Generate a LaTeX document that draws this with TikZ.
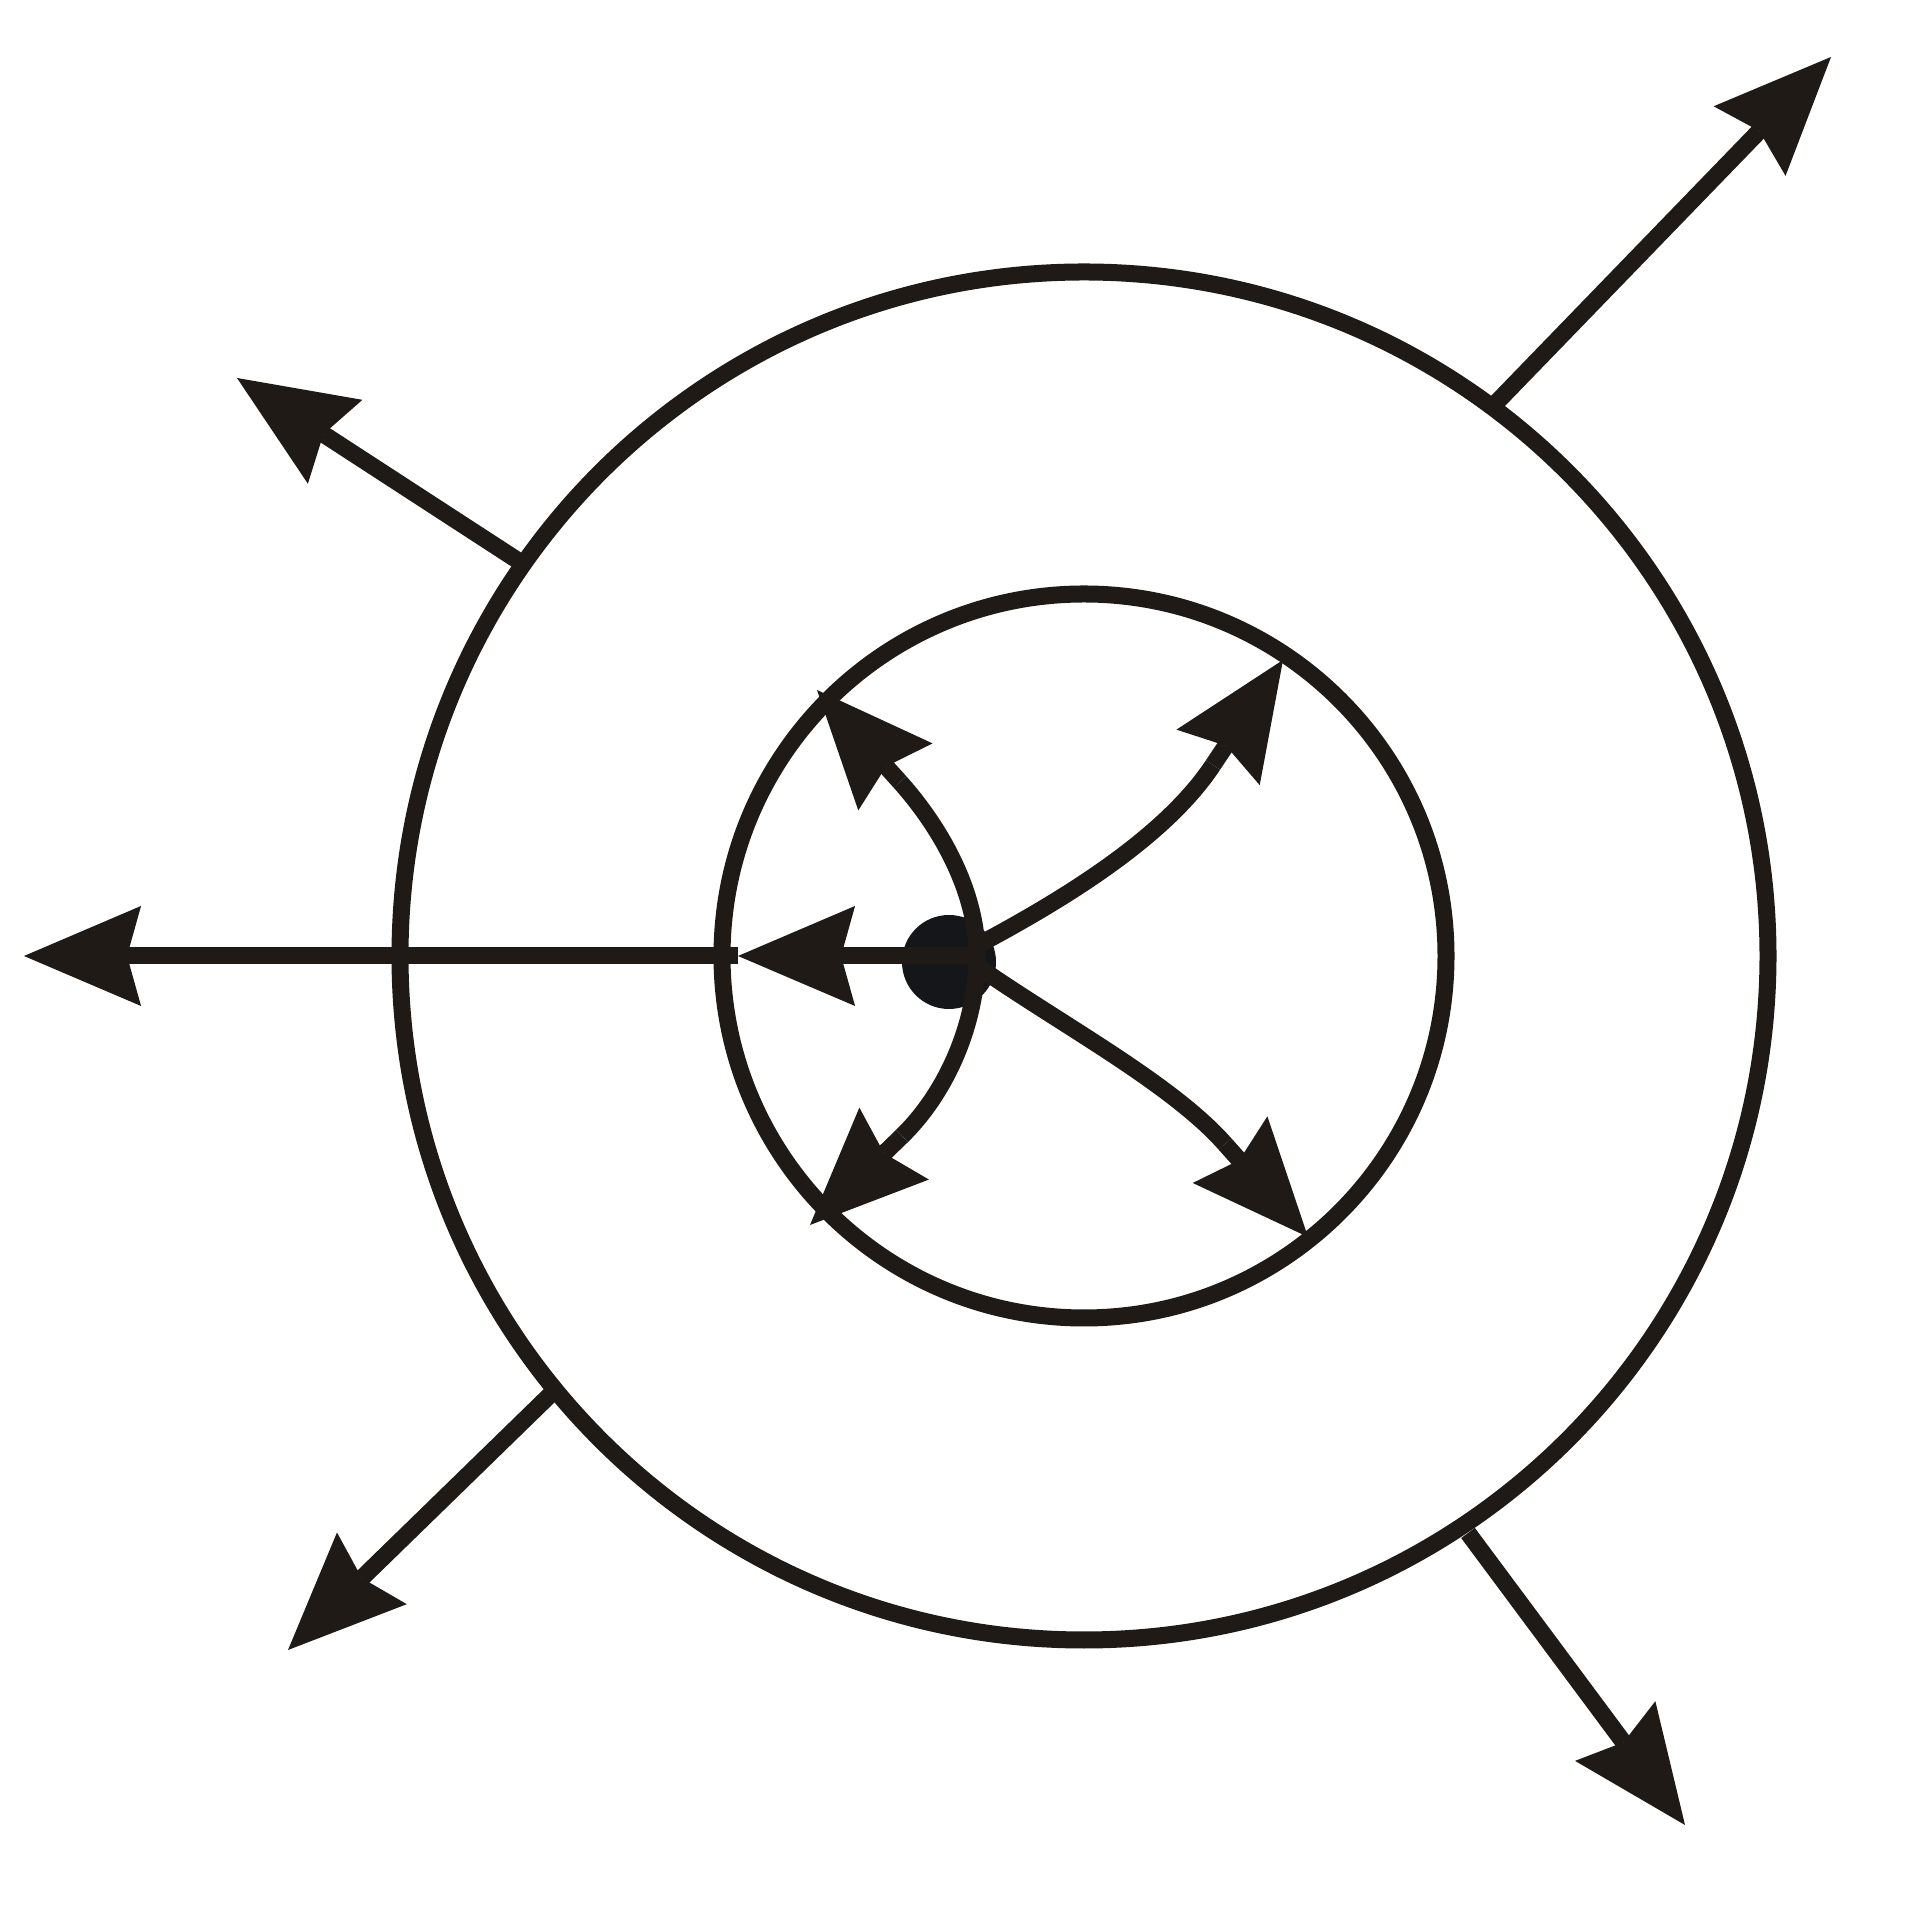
\documentclass[tikz,border=0pt]{standalone}
\usetikzlibrary{arrows.meta}
\definecolor{Ink}{HTML}{201A17}
\definecolor{DotInk}{HTML}{141619}
\tikzset{
    ring/.style = {draw=Ink, line width=0.17cm},
    stem/.style = {draw=Ink, line width=0.17cm},
    ray/.style = {stem,
        -{Stealth[length=1.17cm, width=1cm, inset=0.14cm, line width=0pt]}}
}
\begin{document}
\begin{tikzpicture}[x=0.01cm,y=0.01cm]
        \useasboundingbox (0,0) rectangle (1912,1912);
            \coordinate (c) at (1084,956);
            \draw[ring] (c) circle (684);
            \draw[ring] (c) circle (362);
                \coordinate (dot) at (949,950);
                \fill[DotInk] (dot) circle (47);
            \coordinate (o) at (977,956);
            \coordinate (oa) at (980,968);
            \coordinate (ob) at (980,944);
            \coordinate (m) at (738,956);
            \coordinate (far) at (24,956);
                \draw[ray] (o) -- (m);
                \draw[ray] (m) -- (far);
            \coordinate (ul) at (817,1222);
            \coordinate (ul0) at (900,1130);
            \coordinate (ur) at (1283,1252);
            \coordinate (ur0) at (1213,1147);
            \coordinate (lr) at (1308,675);
            \coordinate (lr0) at (1225,768);
            \coordinate (ll) at (810,687);
            \coordinate (ll0) at (902,776);
                \draw[stem] (o) .. controls (977,1019) and (942,1083) .. (ul0);
                \draw[stem] (oa) .. controls (1068,1015) and (1166,1076) .. (ur0);
                \draw[stem] (ob) .. controls (1062,887) and (1172,828) .. (lr0);
                \draw[stem] (o) .. controls (977,891) and (948,821) .. (ll0);
                \draw[ray] (ul0) -- (ul);
                \draw[ray] (ur0) -- (ur);
                \draw[ray] (lr0) -- (lr);
                \draw[ray] (ll0) -- (ll);
            \coordinate (tr0) at (1497,1510);
            \coordinate (tr) at (1831,1855);
            \coordinate (tl0) at (517,1352);
            \coordinate (tl) at (237,1534);
            \coordinate (bl0) at (552,519);
            \coordinate (bl) at (288,262);
            \coordinate (br0) at (1468,379);
            \coordinate (br) at (1685,87);
                \draw[ray] (tr0) -- (tr);
                \draw[ray] (tl0) -- (tl);
                \draw[ray] (bl0) -- (bl);
                \draw[ray] (br0) -- (br);
\end{tikzpicture}
\end{document}
